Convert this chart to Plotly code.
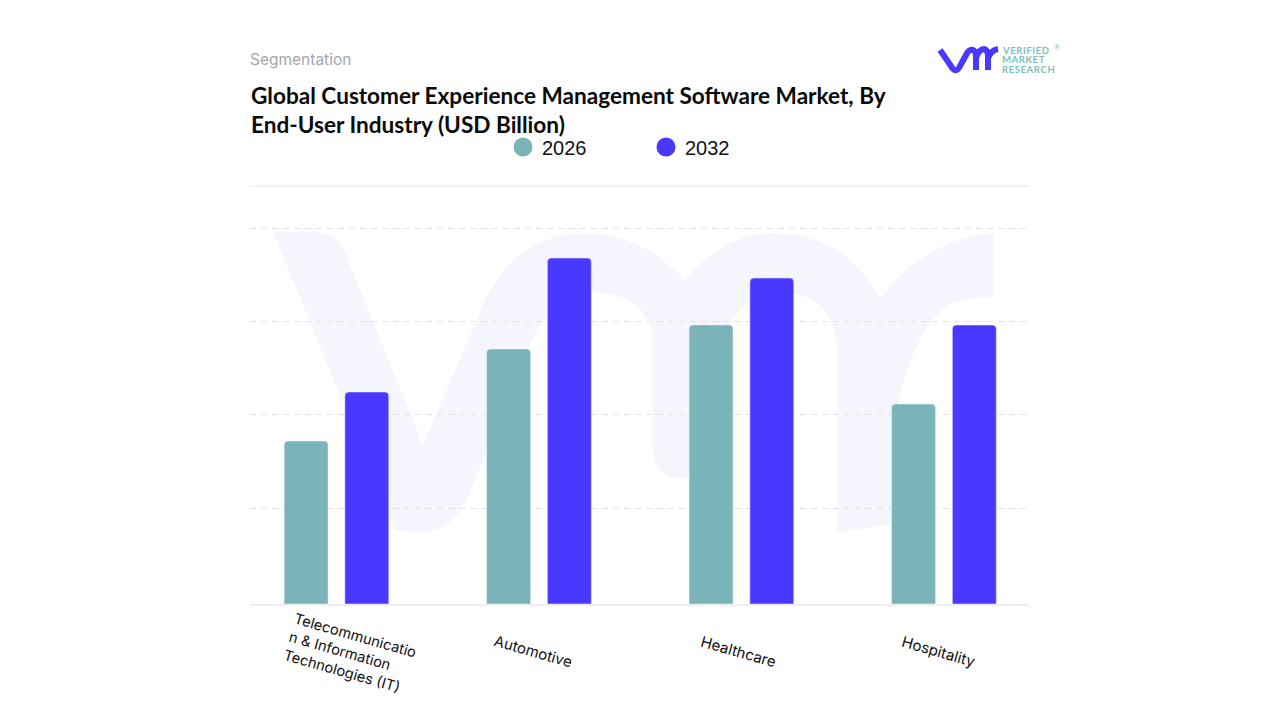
import re
import plotly.graph_objects as go

# Values (y axis is hidden, so units are approximate)
categories = ["Telecommunication & Information Technologies (IT)", "Automotive", "Healthcare", "Hospitality"]
tick_labels = ["Telecommunicatio<br>n & Information<br>Technologies (IT)", "Automotive", "Healthcare", "Hospitality"]
label_shift = [(14, -50), (-5, -47), (-3, -47), (-5, -47)]
label_sizes = [14.6, 15, 15, 15]
series_names = ["2026", "2032"]
values_2026 = [1.63, 2.55, 2.79, 2.00]
values_2032 = [2.12, 3.46, 3.26, 2.79]
grid_values = [0.96, 1.90, 2.83, 3.76]

W, H = 1280, 720
TEAL = "#7bb4b8"
BLUE = "#4b38ff"
WATERMARK = "#f5f6fd"
LOGO_TEAL = "#7cc0bd"


# Shapes are written in page pixels, this turns them into paper coordinates
def px_path(path):
    left, top, pw, ph = 250, 186, 779, 418

    def conv(m):
        x = (float(m.group(1)) - left) / pw
        y = 1 - (float(m.group(2)) - top) / ph
        return f"{x:.5f},{y:.5f}"

    return re.sub(r"(-?[\d.]+),(-?[\d.]+)", conv, path)


watermark_path = (
    "M273,232 L318,232 Q340,234 350,265 L423,445 L483,305 Q515,235 583,233 "
    "Q640,233 685,280 Q725,233 773,233 Q845,233 880,298 Q925,240 993,233 "
    "L993,297 Q955,297 940,312 Q915,335 900,395 L890,525 L838,532 L838,348 "
    "Q832,298 790,293 Q745,290 727,330 L727,478 L675,478 Q655,475 653,450 "
    "L653,335 Q645,295 595,292 Q550,295 530,345 L470,492 Q455,530 423,532 "
    "L395,530 Z"
)
logo_path = (
    "M940,50 L953,69 Q956,72 959,68 L966,55 Q969,49 973,50 Q976,51 976,56 L976,70 "
    "M976,58 Q979,49 984,49 Q988,50 988,56 L988,70 M988,58 Q991,50 998,49"
)

fig = go.Figure()
fig.add_trace(go.Bar(x=categories, y=values_2026, name=series_names[0], marker_color=TEAL))
fig.add_trace(go.Bar(x=categories, y=values_2032, name=series_names[1], marker_color=BLUE))

fig.update_layout(
    width=W, height=H,
    margin=dict(l=250, r=251, t=186, b=116),
    paper_bgcolor="white",
    plot_bgcolor="rgba(0,0,0,0)",
    barmode="group",
    bargap=0.4,
    bargroupgap=0.277,
    barcornerradius=4,
    showlegend=False,
    title=dict(
        text="Global Customer Experience Management Software Market, By<br>End-User Industry (USD Billion)",
        x=251 / W, xanchor="left",
        y=1 - 104 / H, yanchor="top",
        font=dict(family="Lato", size=22.6, color="#0a0a0a", weight=700),
    ),
    xaxis=dict(
        range=[-0.427, 3.42],
        showticklabels=False,
        showgrid=False,
        ticks="",
        showline=True, linecolor="#eceef1", linewidth=2,
    ),
    yaxis=dict(
        range=[0, 4.18],
        tickvals=grid_values,
        showticklabels=False,
        ticks="",
        showgrid=True, gridcolor="#e4e4e4", griddash="6px,5px", gridwidth=1,
        zeroline=False,
    ),
)

# watermark behind the bars, top rule, logo in the corner
fig.add_shape(type="path", path=px_path(watermark_path), xref="paper", yref="paper",
              fillcolor=WATERMARK, line_width=0, layer="below")
fig.add_shape(type="line", xref="paper", yref="paper", x0=0, x1=1, y0=1, y1=1,
              line=dict(color="#e9e9ec", width=1), layer="below")
fig.add_shape(type="path", path=px_path(logo_path), xref="paper", yref="paper",
              line=dict(color=BLUE, width=6))

# legend drawn as circles, the original has big round keys
legend_x = [523, 666]
for name, color, lx in zip(series_names, [TEAL, BLUE], legend_x):
    fig.add_shape(type="circle", xref="paper", yref="paper",
                  x0=(lx - 9.5 - 250) / 779, x1=(lx + 9.5 - 250) / 779,
                  y0=1 - (147 + 9.5 - 186) / 418, y1=1 - (147 - 9.5 - 186) / 418,
                  fillcolor=color, line_width=0)
    fig.add_annotation(text=name, xref="paper", yref="paper", showarrow=False,
                       x=(lx + 17 - 250) / 779, y=1 - (147.5 - 186) / 418,
                       xanchor="left", yanchor="middle",
                       font=dict(family="Liberation Sans", size=20, color="#111111"))

# category labels, slanted and left aligned
for cat, label, (dx, dy), size in zip(categories, tick_labels, label_shift, label_sizes):
    fig.add_annotation(text=label, x=cat, xref="x", y=0, yref="y", showarrow=False,
                       xshift=dx, yshift=dy, textangle=16, align="left",
                       font=dict(family="Inter", size=size, color="#111111"))

fig.add_annotation(text="Segmentation", xref="paper", yref="paper", showarrow=False,
                   x=(248 - 250) / 779, y=1 - (60 - 186) / 418, xanchor="left", yanchor="middle",
                   font=dict(family="Inter", size=15.5, color="#a6a6ab"))

# small logo wordmark, hair spaces stand in for the letter spacing
for i, word in enumerate(["VERIFIED", "MARKET", "RESEARCH"]):
    fig.add_annotation(text="\u200a".join(word), xref="paper", yref="paper", showarrow=False,
                       x=(1000 - 250) / 779, y=1 - (50 + i * 9.7 - 186) / 418,
                       xanchor="left", yanchor="middle",
                       font=dict(family="Lato", size=9.5, color=LOGO_TEAL, weight=700))
fig.add_annotation(text="®", xref="paper", yref="paper", showarrow=False,
                   x=(1052 - 250) / 779, y=1 - (47 - 186) / 418,
                   xanchor="left", yanchor="middle",
                   font=dict(family="Lato", size=7, color=LOGO_TEAL))

fig.write_html("out.html", config={"displayModeBar": False},
               post_script="document.body.style.margin='0';")
